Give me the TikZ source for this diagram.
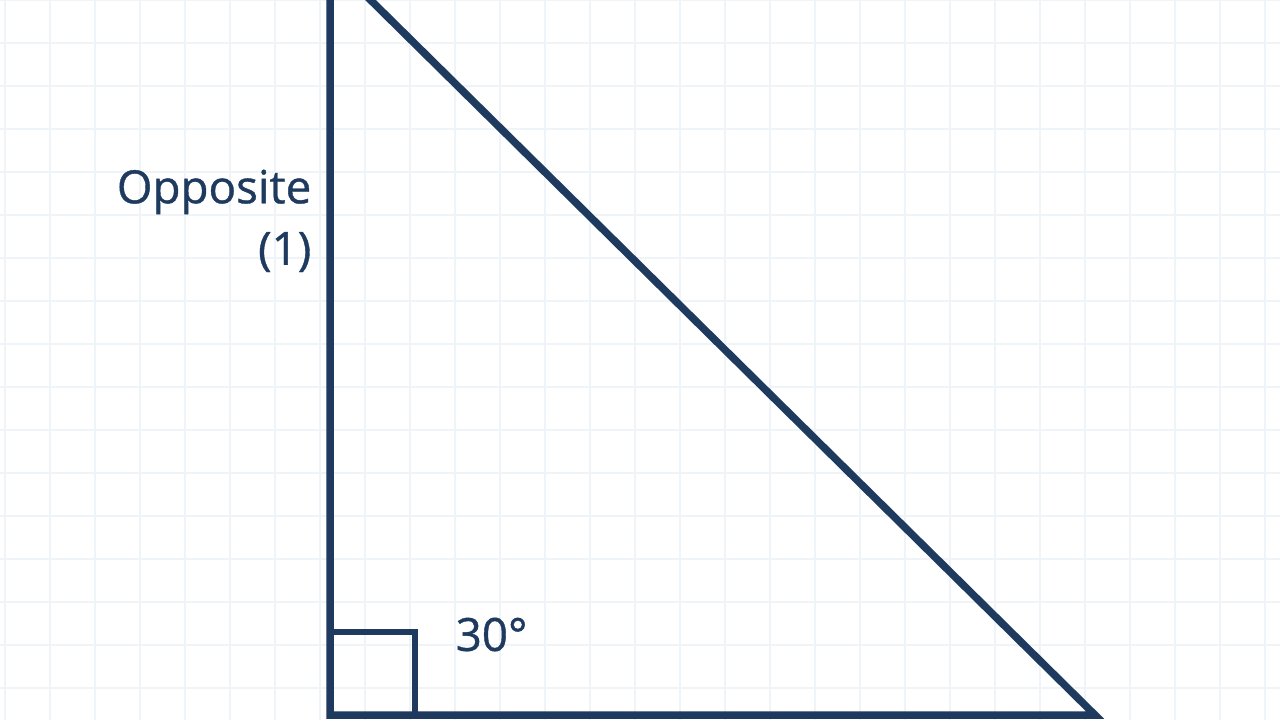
\documentclass[tikz,border=0pt]{standalone}
\usepackage{fontspec}
\setmainfont{Open Sans}[FakeBold=0.8]
\usepackage{tikz}
\usetikzlibrary{positioning}
\usepackage{xcolor}
\definecolor{navy}{RGB}{31,58,95}
\definecolor{gridblue}{RGB}{238,244,247}

\begin{document}
\begin{tikzpicture}[x=0.01cm, y=-0.01cm,
    side/.style={draw=navy, line join=miter},
    lbl/.style={text=navy, font=\fontsize{13}{17.5}\selectfont, inner sep=0pt},
  ]
  \useasboundingbox (0,0) rectangle (1280,720);
  \clip (0,0) rectangle (1280,720);
  \fill[white] (0,0) rectangle (1280,720);

  % grid
  \foreach \x in {5,50,...,1280}
    \draw[gridblue, line width=0.5pt] (\x,0) -- (\x,720);
  \foreach \y in {0,43,...,720}
    \draw[gridblue, line width=0.5pt] (0,\y) -- (1280,\y);

  % triangle
  \coordinate (top) at (330,-40);
  \coordinate (corner) at (330,715);
  \coordinate (right) at (1095,715);
  \draw[side, line width=0.75mm] (top) -- (corner) -- (right) -- cycle;

  % right angle mark
  \coordinate (sqa) at (330,632);
  \coordinate (sqb) at (415,632);
  \coordinate (sqc) at (415,715);
  \draw[side, line width=0.6mm] (sqa) -- (sqb) -- (sqc);

  % labels
  \node[lbl, align=right, anchor=north east] (opp) at (312,169) {Opposite\\(1)};
  \node[lbl, anchor=south west] (ang) at (455,652) {30°};
\end{tikzpicture}
\end{document}
